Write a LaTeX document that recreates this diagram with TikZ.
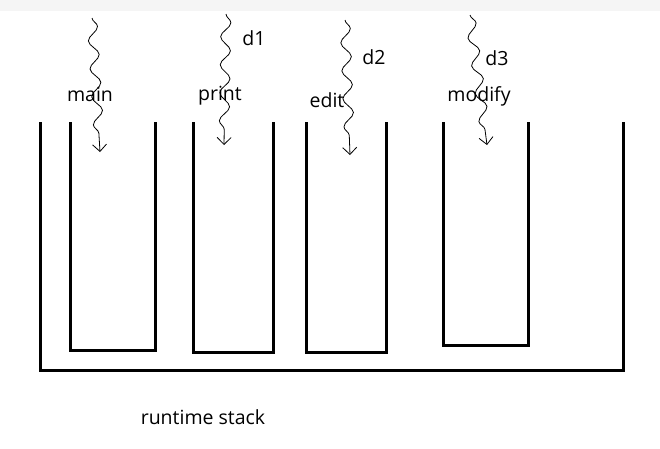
\documentclass[tikz,border=0pt]{standalone}
\usepackage{fontspec}
\setmainfont{Open Sans}
\usetikzlibrary{decorations.pathmorphing,arrows.meta}
\begin{document}
\begin{tikzpicture}[x=1pt,y=-1pt,
  wall/.style={line width=3pt,black},
  wave/.style={line width=0.8pt,decorate,decoration={snake,segment length=28,amplitude=5,post length=12}, -{Straight Barb[length=7,width=14]}},
  lab/.style={font=\fontsize{19.5}{21}\selectfont,inner sep=0pt}]
\useasboundingbox (0,0) rectangle (660,448);
\fill[gray!8] (0,0) rectangle (660,11);
% outer container
\coordinate (ot1) at (40,122); \coordinate (ob1) at (40,370);
\coordinate (ob2) at (623,370); \coordinate (ot2) at (623,122);
\draw[wall] (ot1) -- (ob1) -- (ob2) -- (ot2);
% cups
\draw[wall] (70,122) -- (70,350) -- (155,350) -- (155,122);
\draw[wall] (193,122) -- (193,352) -- (273,352) -- (273,122);
\draw[wall] (306,122) -- (306,352) -- (386,352) -- (386,122);
\draw[wall] (443,122) -- (443,345) -- (528,345) -- (528,122);
% waves
\coordinate (w1a) at (92,18); \coordinate (w1b) at (100,152);
\coordinate (w2a) at (226,14); \coordinate (w2b) at (224,145);
\coordinate (w3a) at (345,20); \coordinate (w3b) at (350,155);
\coordinate (w4a) at (470,15); \coordinate (w4b) at (487,145);
\draw[wave] (w1a) -- (w1b);
\draw[wave] (w2a) -- (w2b);
\draw[wave] (w3a) -- (w3b);
\draw[wave] (w4a) -- (w4b);
% labels
\node[lab] (m) at (90,94) {main};
\node[lab] (p) at (220,96) {print};
\node[lab] (e) at (327,100) {edit};
\node[lab] (mo) at (479,96) {modify};
\node[lab] (d1) at (254,38) {d1};
\node[lab] (d2) at (374,57) {d2};
\node[lab] (d3) at (497,58) {d3};
\node[lab] (rs) at (203,417) {runtime stack};
\end{tikzpicture}
\end{document}
